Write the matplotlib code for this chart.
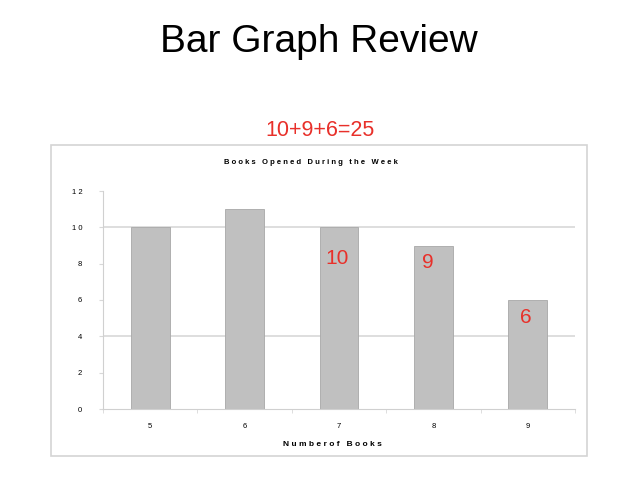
import matplotlib
matplotlib.use("Agg")
import matplotlib.pyplot as plt
from matplotlib.patches import Rectangle

books = ["5", "6", "7", "8", "9"]
counts = [10, 11, 10, 9, 6]
y_ticks = [0, 2, 4, 6, 8, 10, 12]
grid_at = [4, 10]
# red notes written on top of bars 7, 8 and 9
note_idx = [2, 3, 4]
note_txt = ["10", "9", "6"]
sum_text = "10+9+6=25"


def spaced(s):
    return " ".join(s)


plt.rcParams['font.family'] = ['Liberation Sans', 'DejaVu Sans']

fig = plt.figure(figsize=(6.38, 4.78), dpi=100)
W, H = 638, 478

# outer chart frame
fig.patches.append(Rectangle((51 / W, 1 - 456 / H), 536 / W, 311 / H,
                             transform=fig.transFigure, fill=False,
                             edgecolor="#d4d4d4", linewidth=1.2))

fig.text(319 / W, 1 - 42 / H, "Bar Graph Review", ha="center", va="center",
         fontsize=28, color="black")
fig.text(320 / W, 1 - 130 / H, sum_text, ha="center", va="center",
         fontsize=15.5, color="#e8302a")

ax = fig.add_axes([103 / W, 1 - 409 / H, 472 / W, 218 / H])
x = range(len(books))
ax.bar(x, counts, width=0.41, color="#c0c0c0", edgecolor="#a8a8a8",
       linewidth=0.6, zorder=2)
for g in grid_at:
    ax.axhline(g, color="#d8d8d8", linewidth=1.2, zorder=1)

ax.set_xlim(-0.5, len(books) - 0.5)
ax.set_ylim(0, 12)
ax.set_yticks(y_ticks)
ax.set_yticklabels([spaced(str(v)) for v in y_ticks], fontsize=5.5)
ax.set_xticks(list(x))
ax.set_xticklabels(books, fontsize=5.5)
ax.set_xticks([i + 0.5 for i in range(-1, len(books))], minor=True)
ax.tick_params(axis="x", which="major", length=0, pad=10)
ax.tick_params(axis="x", which="minor", length=3, color="#d8d8d8")
ax.tick_params(axis="y", length=3, color="#d8d8d8", pad=12)

for s in ["top", "right"]:
    ax.spines[s].set_visible(False)
for s in ["left", "bottom"]:
    ax.spines[s].set_color("#d0d0d0")

fig.text(311 / W, 1 - 162 / H, spaced("Books Opened During the Week"),
         ha="center", va="center", fontsize=5.5, fontweight="bold")
fig.text(332 / W, 1 - 444 / H, spaced("Numberof Books"),
         ha="center", va="center", fontsize=6, fontweight="bold")

for i, t in zip(note_idx, note_txt):
    ax.text(i - (0.06 if i == 3 else 0.02),
            counts[i] - 0.95 - (0.75 if i == 2 else 0), t,
            ha="center", va="center", fontsize=15, color="#e8302a", zorder=3)

fig.savefig("out.png", dpi=100)
